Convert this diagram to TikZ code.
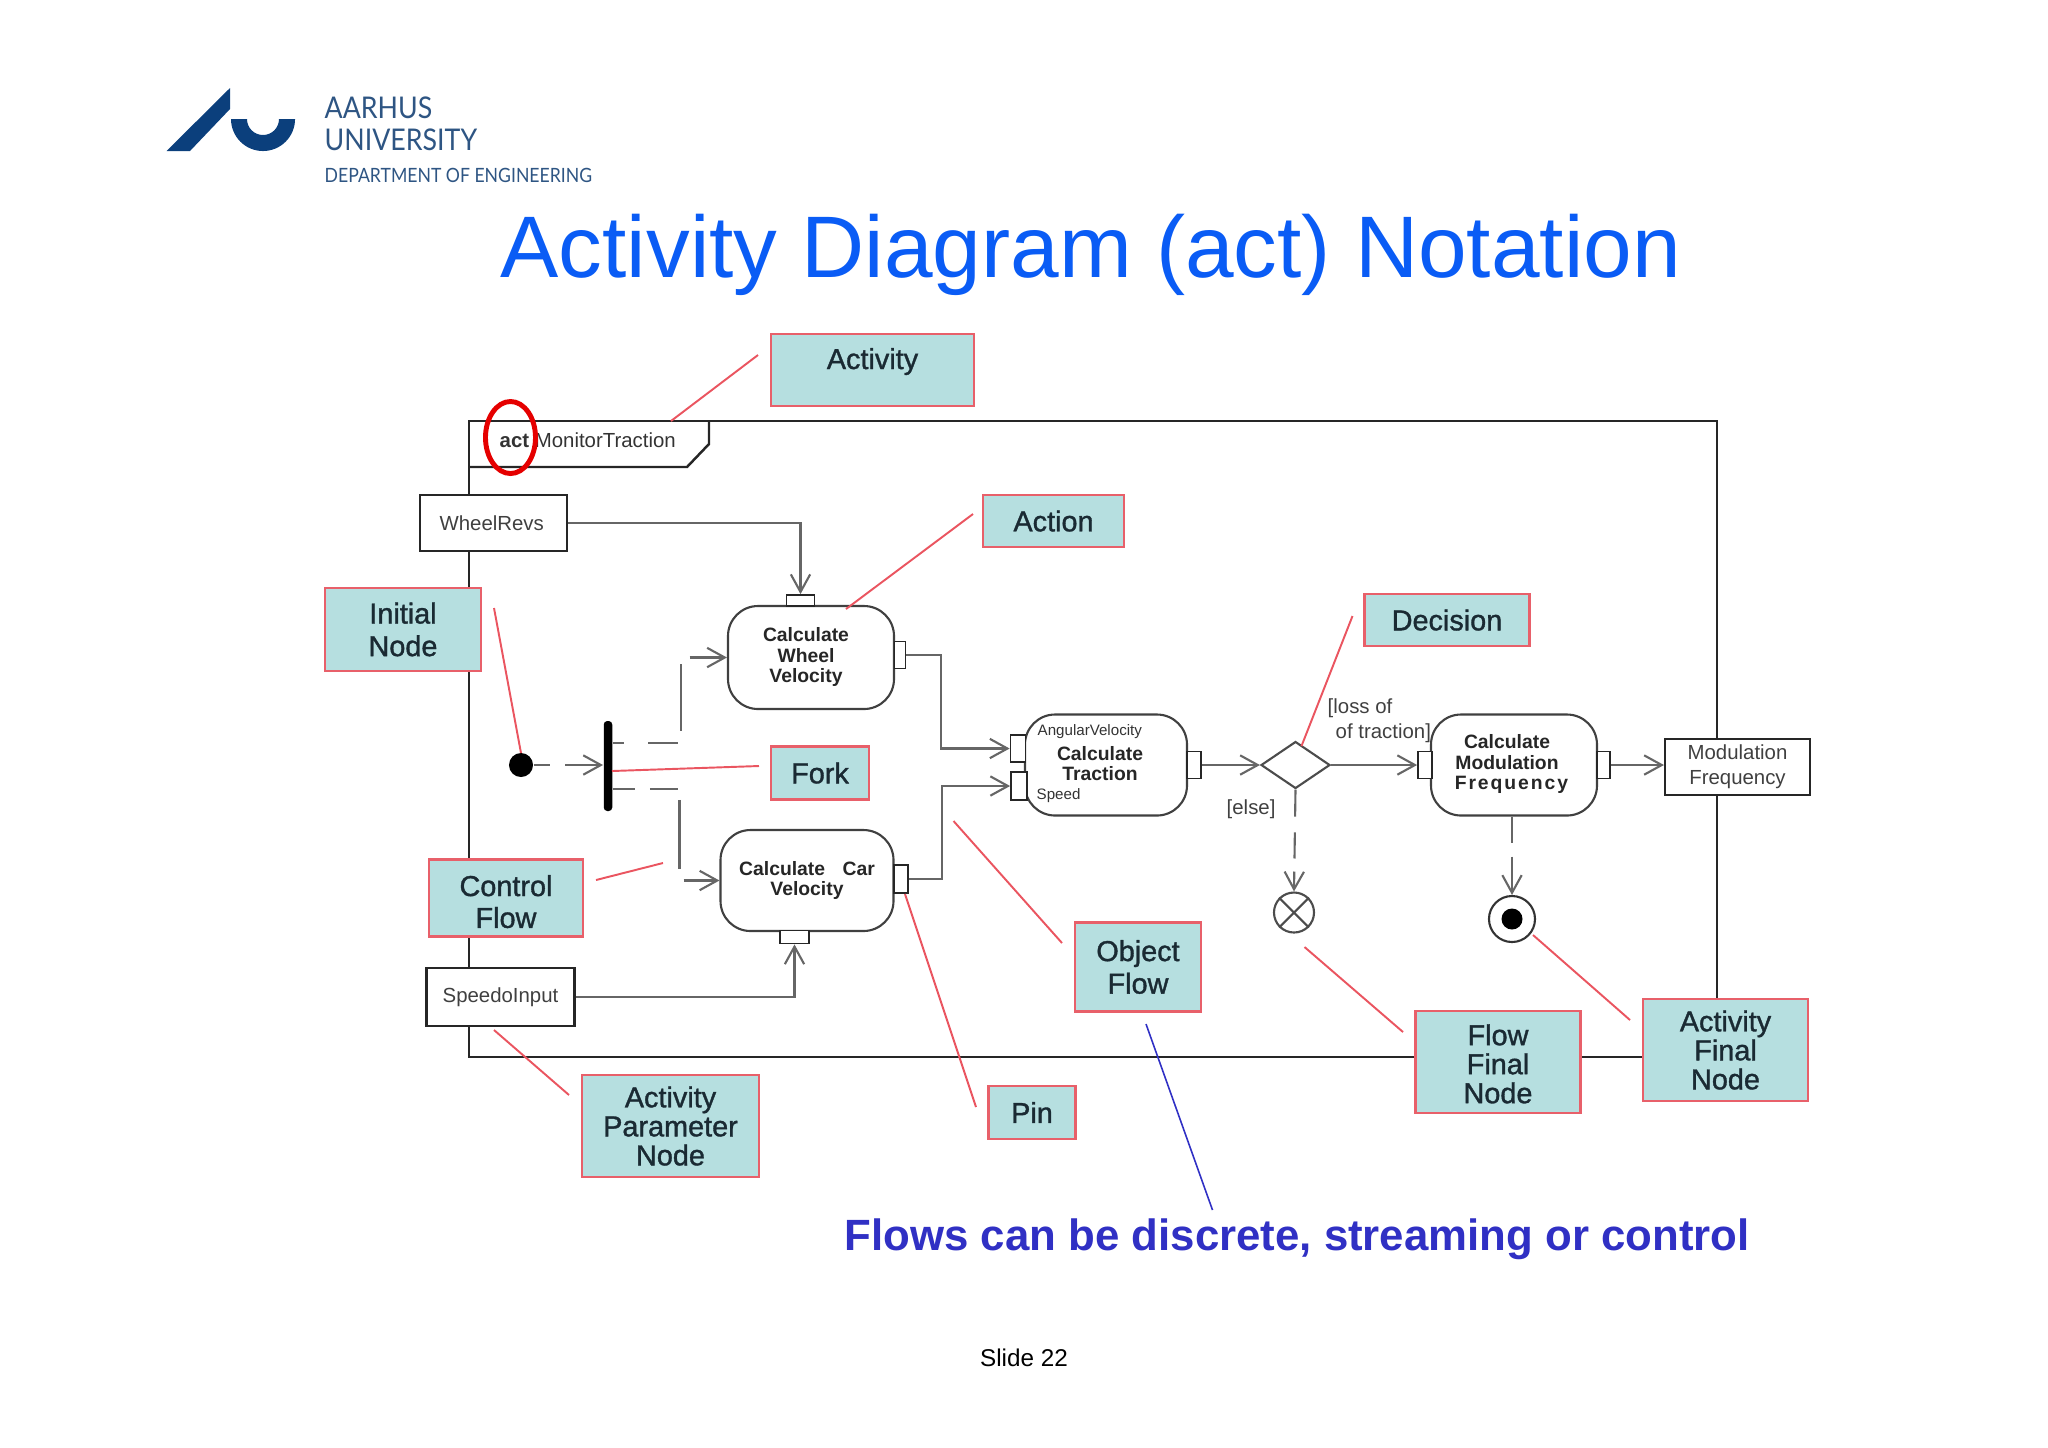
\documentclass[tikz,border=0pt]{standalone}
\usepackage{fontspec}
\setmainfont{Liberation Sans}
\newfontfamily\logofont[FakeStretch=0.895]{Lato}
\newfontfamily\calloutface[FakeBold=1.2]{Liberation Sans}
\usetikzlibrary{arrows.meta,shapes.geometric}
\definecolor{aublue}{HTML}{0B3F7C}
\definecolor{logotext}{HTML}{2E5583}
\definecolor{titleblue}{HTML}{0A5CF5}
\definecolor{noteblue}{HTML}{3030C4}
\definecolor{calloutfill}{HTML}{B6DFE0}
\definecolor{calloutred}{HTML}{E8606A}
\definecolor{callouttext}{HTML}{1A2A33}
\definecolor{leadred}{HTML}{EA5560}
\definecolor{flowgrey}{HTML}{666666}
\tikzset{
	boxsize/.style 2 args={minimum width=#1*0.01cm,minimum height=#2*0.01cm},
	callout/.style={draw=calloutred,fill=calloutfill,line width=.7pt,inner sep=0pt,align=center,text=callouttext,font=\calloutface\fontsize{8.2}{8.25}\selectfont},
	action/.style={draw=black!75,fill=white,line width=.6pt,rounded corners=.3cm,inner sep=0pt},
	actiontext/.style={inner sep=0pt,align=center,text=black!85,font=\fontsize{5.5}{5.7}\selectfont\bfseries},
	pinbox/.style={draw=black!85,fill=white,line width=.5pt,inner sep=0pt},
	paramnode/.style={draw=black!85,fill=white,line width=.6pt,inner sep=0pt,align=center,text=black!75,font=\fontsize{5.8}{7}\selectfont},
	smalltext/.style={inner sep=0pt,text=black!75,font=\fontsize{5.8}{6.6}\selectfont},
	pintext/.style={inner sep=0pt,text=black!80,font=\fontsize{4.3}{5}\selectfont},
	objflow/.style={draw=flowgrey,line width=.6pt,-{Straight Barb[length=5pt,width=5.5pt]}},
	leader/.style={draw=leadred,line width=.55pt},
}
\begin{document}
\begin{tikzpicture}[x=0.01cm,y=-0.01cm]
	\useasboundingbox (0,-1) rectangle (2048,1446);
	% logo
	\fill[aublue] (166.5,150) -- (230,87) -- (230,108) -- (190,150) -- cycle;
	\fill[aublue] (231,118) arc[start angle=180,end angle=360,radius=.32cm] -- (279,118) arc[start angle=360,end angle=180,radius=.16cm] -- cycle;
	\node[anchor=base west,inner sep=0pt,text=logotext,font=\logofont\fontsize{8.5}{9}\selectfont] (logoa) at (324,117) {AARHUS};
	\node[anchor=base west,inner sep=0pt,text=logotext,font=\logofont\fontsize{8.5}{9}\selectfont] (logob) at (324,149) {UNIVERSITY};
	\node[anchor=base west,inner sep=0pt,text=logotext,font=\logofont\fontsize{5.6}{6}\selectfont] (logoc) at (324,181.5) {DEPARTMENT OF ENGINEERING};
	% title and footer
	\node[anchor=base west,inner sep=0pt,text=titleblue,font=\fontsize{24.85}{26}\selectfont] (title) at (500,276) {Activity Diagram (act) Notation};
	\node[anchor=base west,inner sep=0pt,text=noteblue,font=\fontsize{12.45}{14}\selectfont\bfseries] (note) at (844,1249) {Flows can be discrete, streaming or control};
	\node[inner sep=0pt,font=\fontsize{6.9}{8}\selectfont] (slide) at (1024,1357) {Slide 22};
	% frame
	\draw[black!85,line width=.7pt] (469,420) rectangle (1717,1056);
	\draw[black!85,line width=.7pt] (469,466) -- (687,466) -- (709,443) -- (709,420);
	\node[anchor=west,inner sep=0pt,text=black!80,font=\fontsize{5.8}{6}\selectfont] (acttab) at (499,439) {\textbf{act} MonitorTraction};
	% actions and pins
	\node[action,boxsize={166}{103}] (calcwheel) at (811,656.5) {};
	\node[action,boxsize={173}{101}] (calccar) at (807,879.5) {};
	\node[action,boxsize={162}{101}] (calctraction) at (1106,764) {};
	\node[action,boxsize={166}{101}] (calcmod) at (1514,764) {};
	\node[actiontext] (wheeltext) at (806,656) {Calculate\\Wheel\\Velocity};
	\node[actiontext] (cartext) at (807,879) {Calculate\hspace{.9em}Car\\Velocity};
	\node[actiontext] (tractext) at (1100,762.5) {Calculate\\Traction};
	\node[actiontext,font=\fontsize{5.5}{5.9}\selectfont\bfseries] (modtext) at (1507,763) {Calculate\\Modulation\\\hspace*{2.5pt}{\addfontfeature{LetterSpace=10}Frequency}};
	\node[pintext,anchor=west] (angtext) at (1037,731) {AngularVelocity};
	\node[pintext,anchor=west] (speedtext) at (1036,795) {Speed};
	\node[pinbox,boxsize={28}{11}] (pinwheelin) at (800.5,599.5) {};
	\node[pinbox,boxsize={11}{27}] (pinwheelout) at (900,654) {};
	\node[pinbox,boxsize={14}{28}] (pincarout) at (901,878) {};
	\node[pinbox,boxsize={29}{13}] (pincarin) at (794.5,936) {};
	\node[pinbox,boxsize={15}{27}] (pinang) at (1018,747.5) {};
	\node[pinbox,boxsize={16}{28}] (pinspeed) at (1019,785) {};
	\node[pinbox,boxsize={14}{27}] (pintracout) at (1194,764) {};
	\node[pinbox,boxsize={14}{27}] (pinmodin) at (1425,764) {};
	\node[pinbox,boxsize={13}{27}] (pinmodout) at (1603.5,764) {};
	% parameter nodes
	\node[paramnode,boxsize={147}{56}] (wheelrevs) at (493.5,522) {WheelRevs\hspace*{1pt}};
	\node[paramnode,boxsize={148}{58}] (speedoinput) at (500.5,996) {SpeedoInput};
	\node[paramnode,boxsize={145}{56}] (modfreq) at (1737.5,766) {Modulation\\Frequency};
	% control nodes
	\node[circle,fill=black,inner sep=0pt,minimum size=.24cm] (initial) at (521,764) {};
	\node[fill=black,inner sep=0pt,rounded corners=1pt,boxsize={8.5}{90}] (forkbar) at (608,765) {};
	\node[diamond,draw=black!70,fill=white,line width=.6pt,inner sep=0pt,aspect=1.47,boxsize={69}{47}] (decision) at (1295.5,764) {};
	\node[circle,draw=black!70,fill=white,line width=.6pt,inner sep=0pt,minimum size=.4cm] (flowfinal) at (1294,911.5) {};
	\draw[black!70,line width=.6pt] (flowfinal.45) -- (flowfinal.225);
	\draw[black!70,line width=.6pt] (flowfinal.135) -- (flowfinal.315);
	\node[circle,draw=black!80,fill=white,line width=.6pt,inner sep=0pt,minimum size=.46cm] (actfinal) at (1512,918) {};
	\node[circle,fill=black,inner sep=0pt,minimum size=.21cm] (actfinaldot) at (1512,918) {};
	% guards
	\node[smalltext,anchor=west] (guardloss) at (1327,707.5) {[loss of};
	\node[smalltext,anchor=west] (guardtrac) at (1335,732) {of traction]};
	\node[smalltext,anchor=west] (guardelse) at (1226,808.5) {[else]};
	% flows
	\coordinate (bendup) at (681,742);
	\coordinate (benddown) at (679.5,788);
	\coordinate (bendwheel) at (941,747.5);
	\coordinate (bendcar) at (942,785);
	\draw[objflow] (wheelrevs.east) -| (pinwheelin.north);
	\draw[objflow] (speedoinput.east) -| (pincarin.south);
	\draw[objflow] (pinwheelout.east) -| (bendwheel) -- (pinang.west);
	\draw[objflow] (pincarout.east) -| (bendcar) -- (pinspeed.west);
	\draw[objflow] (pintracout.east) -- (decision.west);
	\draw[objflow] (decision.east) -- (pinmodin.west);
	\draw[objflow] (pinmodout.east) -- (pinmodout.east -| modfreq.west);
	\draw[objflow,dash pattern=on 4.6pt off 4.3pt on 14pt] (initial.east) -- (initial.east -| forkbar.west);
	\draw[objflow,dash pattern=on 3.1pt off 7pt on 8.4pt off 4.3pt on 19.1pt off 4.2pt on 14pt] (forkbar.east |- bendup) -- (bendup) |- (calcwheel.west);
	\draw[objflow,dash pattern=on 6.2pt off 4.3pt on 8pt off 3.5pt on 19.7pt off 4.4pt on 14pt] (forkbar.east |- benddown) -- (benddown) |- (calccar.west);
	\draw[objflow,dash pattern=on 7.7pt off 4.5pt on 7.4pt off 3.7pt on 9pt] (decision.south) -- (flowfinal.north);
	\draw[objflow,dash pattern=on 7.4pt off 4pt on 14pt] (calcmod.south -| actfinal) -- (actfinal.north);
	% red marker on act
	\draw[red!90!black,line width=1.4pt] (510.5,436.5) ellipse [x radius=.25cm,y radius=.36cm];
	% callouts
	\node[callout,boxsize={203}{72},text depth=6.5pt] (lblactivity) at (872.5,369) {Activity};
	\node[callout,boxsize={141}{52}] (lblaction) at (1053.5,520) {Action};
	\node[callout,boxsize={156}{83}] (lblinitial) at (403,628.5) {Initial\\[1pt]Node};
	\node[callout,boxsize={98}{53}] (lblfork) at (820,772) {Fork};
	\node[callout,boxsize={154}{77}] (lblcontrol) at (506,897) {\rule{0pt}{8pt}Control\\[.8pt]Flow};
	\node[callout,boxsize={177}{102}] (lblparam) at (670.5,1125) {Activity\\Parameter\\Node};
	\node[callout,boxsize={165}{52}] (lbldecision) at (1447,619) {Decision};
	\node[callout,boxsize={126}{89}] (lblobject) at (1138,966) {Object\\[1pt]Flow};
	\node[callout,boxsize={87}{53}] (lblpin) at (1032,1111.5) {Pin};
	\node[callout,boxsize={165}{102}] (lblflowfinal) at (1498,1061) {\rule{0pt}{7pt}Flow\\Final\\Node};
	\node[callout,boxsize={165}{102}] (lblactfinal) at (1725.5,1049) {Activity\\Final\\Node};
	% leaders
	\coordinate (activitya) at (758,354);
	\coordinate (activityb) at (671,420);
	\coordinate (actiona) at (973,513);
	\coordinate (actionb) at (846,608);
	\coordinate (initiala) at (494,607);
	\coordinate (initialb) at (521,752);
	\coordinate (forka) at (759,765);
	\coordinate (forkb) at (612,770);
	\coordinate (controla) at (596,879);
	\coordinate (controlb) at (663,862);
	\coordinate (parama) at (494,1029);
	\coordinate (paramb) at (569,1094);
	\coordinate (pina) at (905,893);
	\coordinate (pinb) at (976,1106);
	\coordinate (objecta) at (953.5,820);
	\coordinate (objectb) at (1062,942);
	\coordinate (decisiona) at (1352.5,615);
	\coordinate (decisionb) at (1301.5,745);
	\coordinate (flowfinala) at (1304.5,946);
	\coordinate (flowfinalb) at (1403,1031);
	\coordinate (actfinala) at (1533,934);
	\coordinate (actfinalb) at (1630,1019);
	\coordinate (notea) at (1146,1023);
	\coordinate (noteb) at (1212.5,1209);
	\draw[leader] (activitya) -- (activityb);
	\draw[leader] (actiona) -- (actionb);
	\draw[leader] (initiala) -- (initialb);
	\draw[leader] (forka) -- (forkb);
	\draw[leader] (controla) -- (controlb);
	\draw[leader] (parama) -- (paramb);
	\draw[leader] (pina) -- (pinb);
	\draw[leader] (objecta) -- (objectb);
	\draw[leader] (decisiona) -- (decisionb);
	\draw[leader] (flowfinala) -- (flowfinalb);
	\draw[leader] (actfinala) -- (actfinalb);
	\draw[noteblue,line width=.45pt] (notea) -- (noteb);
\end{tikzpicture}
\end{document}
